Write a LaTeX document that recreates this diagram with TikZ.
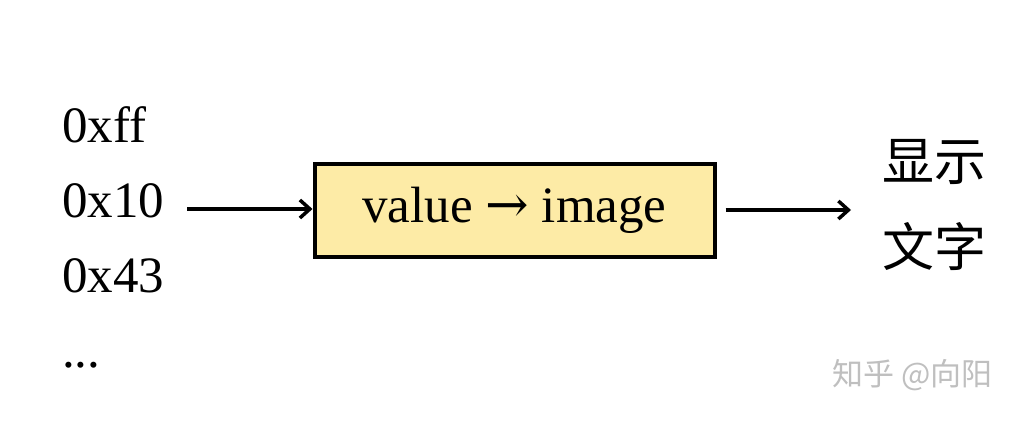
\documentclass[tikz,border=0pt]{standalone}
\usepackage{fontspec}
\setmainfont{Liberation Serif}
\newfontfamily\cjk{Noto Sans CJK SC}
\newfontfamily\arrowfont{DejaVu Serif}
\usetikzlibrary{arrows.meta}
\definecolor{boxfill}{HTML}{FDEBA6}
\tikzset{
  hexlabel/.style={anchor=base west, inner sep=0pt, font=\fontsize{51}{51}\selectfont},
  procbox/.style={draw=black, line width=4pt, fill=boxfill, minimum width=400pt, minimum height=93pt, inner sep=0pt, font=\fontsize{51}{51}\selectfont},
  flow/.style={line width=3.5pt, -{Straight Barb[length=10pt,width=18pt,line width=3.5pt]}},
  outtext/.style={inner sep=0pt, font=\cjk\fontsize{52}{52}\selectfont},
  wmark/.style={inner sep=0pt, text=gray!50, font=\cjk\fontsize{31}{31}\selectfont}
}
\begin{document}
\begin{tikzpicture}[x=1pt,y=-1pt]
\useasboundingbox (0,0) rectangle (1024,423);
\node[hexlabel] (ff) at (62,142) {0xff};
\node[hexlabel] (h10) at (62,217) {0x10};
\node[hexlabel] (h43) at (62,292) {0x43};
\node[hexlabel] (dots) at (62,367) {...};
\node[procbox] (box) at (514.5,210) {value {\arrowfont\fontsize{52}{52}\selectfont →} image};
\coordinate (in) at (187,209);
\draw[flow] (in) -- (box.west |- in);
\coordinate (outstart) at ([xshift=9pt]box.east);
\coordinate (out) at (851,210);
\draw[flow] (outstart) -- (out);
\node[outtext, anchor=west] (xs) at (882,162) {显示};
\node[outtext, anchor=west] (wz) at (882,247) {文字};
\node[wmark, anchor=west] (wm) at (832,375) {知乎 @向阳};
\end{tikzpicture}
\end{document}
